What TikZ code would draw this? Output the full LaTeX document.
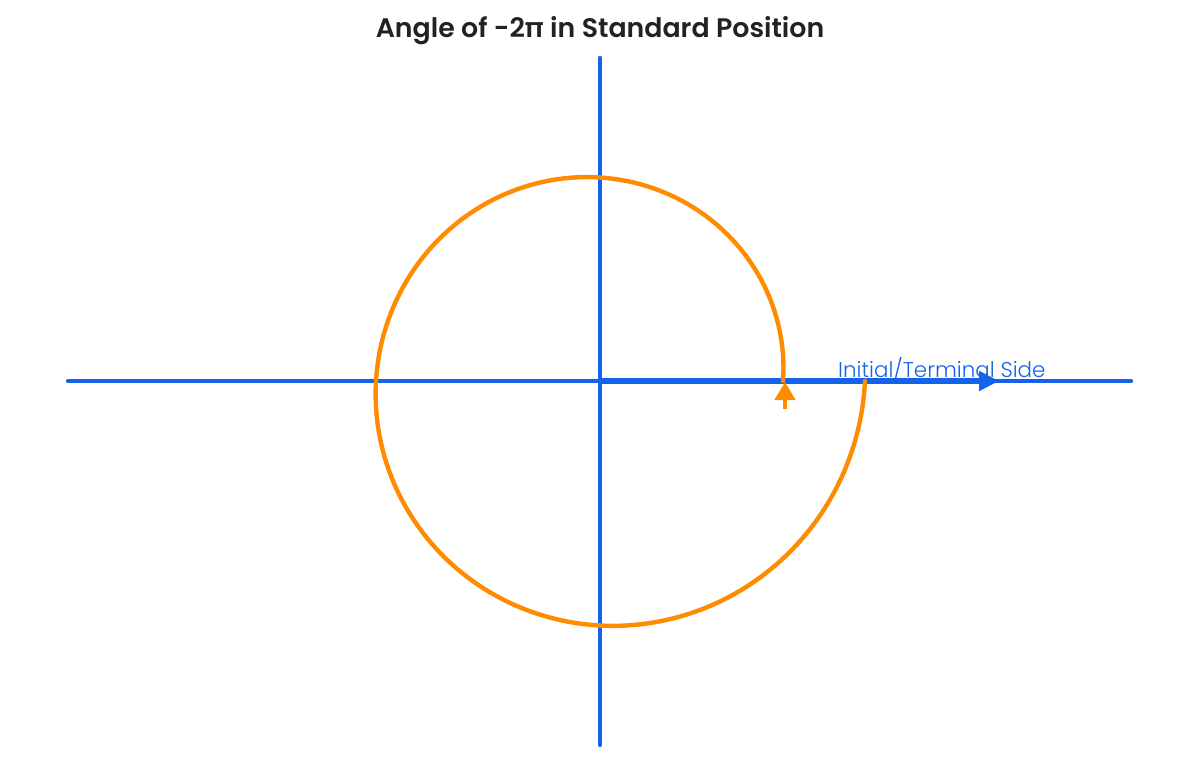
\documentclass[tikz,border=0pt]{standalone}
\usepackage{fontspec}
\setmainfont{Poppins}
\newfontfamily\titlefont{Poppins SemiBold}
\newfontfamily\lightfont{Poppins Light}
\usetikzlibrary{arrows.meta}
\definecolor{axisblue}{HTML}{1463EB}
\definecolor{spiralorange}{HTML}{FF8C00}
\definecolor{titlegray}{HTML}{222222}
\tikzset{
  axisline/.style={draw=axisblue, line width=4.4pt, line cap=round},
  termside/.style={draw=axisblue, line width=5.4pt, -{Triangle[length=20pt,width=19pt]}},
  spiral/.style={draw=spiralorange, line width=4.4pt, line cap=round},
  orangetip/.style={draw=spiralorange, fill=spiralorange, line width=4.4pt, -{Triangle[length=18pt,width=20pt]}},
  titlestyle/.style={text=titlegray, font=\titlefont\fontsize{26.8}{30}\selectfont, inner sep=0pt},
  labelstyle/.style={text=axisblue, font=\lightfont\fontsize{21.4}{24}\selectfont, inner sep=0pt, anchor=base west},
}
\begin{document}
\begin{tikzpicture}[x=1pt, y=-1pt]
\useasboundingbox (0,0) rectangle (1200,763);
\node[titlestyle] (title) at (600,31) {Angle of -2π in Standard Position};
\coordinate (xl) at (68,381);
\coordinate (xr) at (1131,381);
\coordinate (yt) at (600,58);
\coordinate (yb) at (600,745);
\coordinate (o) at (600,381);
\coordinate (term) at (999,381);
\draw[axisline] (xl) -- (xr);
\draw[axisline] (yt) -- (yb);
\draw[termside] (o) -- (term);
\draw[spiral] plot[domain=0:360, samples=240, smooth] ({600 + (265 - 0.22778*\x)*cos(\x)}, {381 + (265 - 0.22778*\x)*sin(\x)});
\coordinate (tipbase) at (785,409);
\coordinate (tiptop) at (785,382);
\draw[orangetip] (tipbase) -- (tiptop);
\node[labelstyle] (lbl) at (838,377) {Initial/Terminal Side};
\end{tikzpicture}
\end{document}
